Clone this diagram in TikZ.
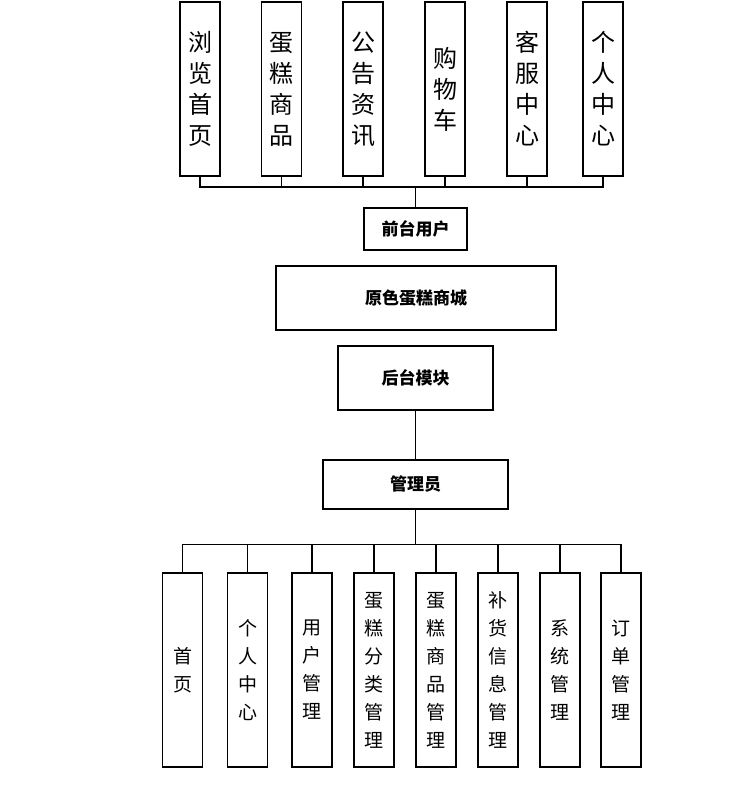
\documentclass[tikz,border=0pt]{standalone}
\usepackage{fontspec}
\newfontfamily\cjk{Noto Sans CJK SC}
\begin{document}
\begin{tikzpicture}[x=1pt,y=-1pt,
  box/.style={draw,line width=1.2pt,inner sep=0pt,font=\cjk},
  topbox/.style={box,minimum width=40pt,minimum height=174pt,font=\cjk\fontsize{24}{31}\selectfont,align=center},
  botbox/.style={box,minimum width=40pt,minimum height=194pt,font=\cjk\fontsize{19}{28}\selectfont,align=center},
  midbox/.style={box,font=\cjk\bfseries\fontsize{17}{20}\selectfont},
  ln/.style={line width=1.2pt}]
\useasboundingbox (0,0) rectangle (744,786);
% top
\node[topbox] (t1) at (200,89) {浏\\览\\首\\页};
\node[topbox] (t2) at (281.5,89) {蛋\\糕\\商\\品};
\node[topbox] (t3) at (363,89) {公\\告\\资\\讯};
\node[topbox] (t4) at (445,89) {购\\物\\车};
\node[topbox] (t5) at (527,89) {客\\服\\中\\心};
\node[topbox] (t6) at (603,89) {个\\人\\中\\心};
\node[midbox,minimum width=103pt,minimum height=42pt] (fu) at (415.5,229) {前台用户};
\node[midbox,minimum width=280pt,minimum height=64pt] (yc) at (416,298) {原色蛋糕商城};
\node[midbox,minimum width=155pt,minimum height=64pt] (ht) at (415.5,378) {后台模块};
\node[midbox,minimum width=185pt,minimum height=49pt] (gl) at (415.5,484.5) {管理员};
\coordinate (tb) at (415.5,187);
\foreach \i in {1,...,6}{\draw[ln] (t\i.south) |- (tb);}
\draw[ln] (t1.south) -- ++(0,11) -| (t6.south);
\draw[ln] (tb) -- (fu.north);
\draw[ln] (ht.south) -- (gl.north);
% bottom
\node[botbox] (b1) at (182.5,670) {首\\页};
\node[botbox] (b2) at (247.5,670) {个\\人\\中\\心};
\node[botbox] (b3) at (312,670) {用\\户\\管\\理};
\node[botbox] (b4) at (374,670) {蛋\\糕\\分\\类\\管\\理};
\node[botbox] (b5) at (436,670) {蛋\\糕\\商\\品\\管\\理};
\node[botbox] (b6) at (498,670) {补\\货\\信\\息\\管\\理};
\node[botbox] (b7) at (560,670) {系\\统\\管\\理};
\node[botbox] (b8) at (621,670) {订\\单\\管\\理};
\coordinate (bb) at (415.5,545);
\draw[ln] (gl.south) -- (bb);
\draw[ln] (b1.north) -- ++(0,-28) -| (b8.north);
\foreach \i in {2,...,7}{\draw[ln] (b\i.north) -- ++(0,-28);}
\end{tikzpicture}
\end{document}
